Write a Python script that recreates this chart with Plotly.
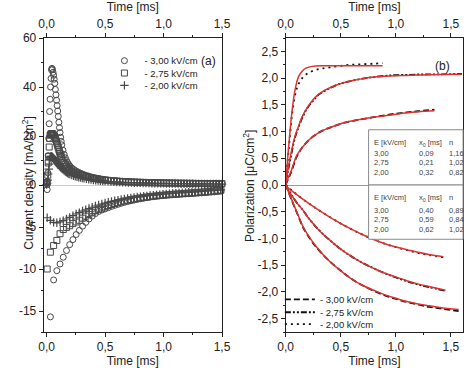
import plotly.graph_objects as go

FONT = "Liberation Sans, Arial, sans-serif"
INK = "#222222"
RED = "#e03030"

# ---------------- panel (a): current density ----------------
t_pos = [0.000, 0.005, 0.010, 0.014, 0.018, 0.022, 0.026, 0.030, 0.034, 0.038, 0.042, 0.046, 0.050,
         0.055, 0.060, 0.065, 0.070, 0.075, 0.080, 0.085, 0.090, 0.095, 0.100, 0.105, 0.110, 0.115,
         0.120, 0.125, 0.130, 0.140, 0.150, 0.160, 0.170, 0.180, 0.190, 0.200, 0.215, 0.230, 0.245,
         0.260, 0.275, 0.290, 0.305, 0.320, 0.340, 0.360, 0.380, 0.400, 0.420, 0.440, 0.460, 0.480,
         0.500, 0.525, 0.550, 0.575, 0.600, 0.625, 0.650, 0.675, 0.700, 0.725, 0.750, 0.775, 0.800,
         0.825, 0.850, 0.875, 0.900, 0.925, 0.950, 0.975, 1.000, 1.025, 1.050, 1.075, 1.100, 1.125,
         1.150, 1.175, 1.200, 1.225, 1.250, 1.275, 1.300, 1.325, 1.350, 1.375, 1.400, 1.425, 1.450,
         1.475, 1.500]
j_pos_300 = [0.5, 1.5, 5, 12, 19, 25, 30, 35, 40, 43.5, 47, 47.6, 47.2,
             46, 44.8, 43.2, 41.5, 39, 36.8, 34.6, 32.4, 30.2, 28, 25.6, 23.4, 21.4,
             19.5, 17.8, 16.4, 14.2, 12.5, 11.1, 10, 9.1, 8.3, 7.7, 7.0, 6.4, 5.9,
             5.5, 5.1, 4.8, 4.5, 4.2, 3.9, 3.6, 3.3, 3.1, 2.9, 2.7, 2.5, 2.35,
             2.2, 2.05, 1.9, 1.8, 1.7, 1.6, 1.5, 1.42, 1.35, 1.3, 1.25, 1.2, 1.15,
             1.1, 1.06, 1.02, 0.98, 0.95, 0.92, 0.9, 0.87, 0.85, 0.83, 0.81, 0.79, 0.77,
             0.75, 0.73, 0.71, 0.7, 0.68, 0.67, 0.65, 0.64, 0.62, 0.61, 0.6, 0.58, 0.57,
             0.56, 0.55]
j_pos_275 = [0.3, 1, 4, 9, 11.6, 15.5, 19, 20.3, 20.6, 20.8, 21, 21, 20.9,
             20.7, 20.4, 20, 19.5, 19, 18.3, 17.6, 16.8, 16, 15.2, 14.4, 13.6, 12.9,
             12.2, 11.6, 11, 10, 9.1, 8.3, 7.6, 7, 6.5, 6.1, 5.6, 5.2, 4.8,
             4.5, 4.2, 4.0, 3.8, 3.6, 3.35, 3.1, 2.9, 2.7, 2.55, 2.4, 2.25, 2.1,
             2.0, 1.88, 1.76, 1.66, 1.57, 1.49, 1.41, 1.34, 1.28, 1.22, 1.17, 1.12, 1.08,
             1.04, 1.0, 0.97, 0.94, 0.91, 0.88, 0.86, 0.83, 0.81, 0.79, 0.77, 0.75, 0.73,
             0.71, 0.7, 0.68, 0.66, 0.65, 0.63, 0.62, 0.61, 0.59, 0.58, 0.57, 0.56, 0.55,
             0.54, 0.53]
j_pos_200 = [0.2, 0.8, 2, 4.5, 6.5, 8.5, 10.3, 11.2, 11.6, 11.7, 11.7, 11.6, 11.4,
             11.2, 10.9, 10.6, 10.3, 10, 9.7, 9.4, 9.1, 8.8, 8.5, 8.2, 7.9, 7.6,
             7.3, 7.0, 6.8, 6.3, 5.9, 5.5, 5.2, 4.9, 4.6, 4.4, 4.1, 3.8, 3.55,
             3.35, 3.15, 3.0, 2.85, 2.7, 2.5, 2.35, 2.2, 2.05, 1.95, 1.85, 1.75, 1.65,
             1.57, 1.48, 1.4, 1.32, 1.25, 1.19, 1.13, 1.08, 1.03, 0.98, 0.94, 0.9, 0.86,
             0.83, 0.8, 0.77, 0.74, 0.72, 0.69, 0.67, 0.65, 0.63, 0.61, 0.59, 0.57, 0.56,
             0.54, 0.53, 0.51, 0.5, 0.49, 0.47, 0.46, 0.45, 0.44, 0.43, 0.42, 0.41, 0.4,
             0.39, 0.38]

t_neg = [0.005, 0.0325, 0.06, 0.0875, 0.115, 0.1425, 0.17, 0.1975, 0.225, 0.2525, 0.28, 0.3075,
         0.335, 0.3625, 0.39, 0.4175, 0.445, 0.4725, 0.5, 0.5275, 0.555, 0.5825, 0.61, 0.6375,
         0.665, 0.6925, 0.72, 0.7475, 0.775, 0.8025, 0.83, 0.8575, 0.885, 0.9125, 0.94, 0.9675,
         0.995, 1.0225, 1.05, 1.0775, 1.105, 1.1325, 1.16, 1.1875, 1.215, 1.2425, 1.27, 1.2975,
         1.325, 1.3525, 1.38, 1.4075, 1.435, 1.4625, 1.49]
j_neg_300 = [-0.55, -15.7, -11.3, -10.2, -9.4, -8.6, -7.8, -7.1, -6.5, -5.9, -5.4, -4.9,
             -4.45, -4.05, -3.7, -3.4, -3.15, -2.98, -2.85, -2.7, -2.55, -2.42, -2.3, -2.18,
             -2.07, -1.97, -1.88, -1.8, -1.72, -1.64, -1.57, -1.5, -1.44, -1.38, -1.33, -1.28,
             -1.24, -1.21, -1.18, -1.15, -1.12, -1.1, -1.08, -1.06, -1.04, -1.02, -1.0, -0.97,
             -0.94, -0.91, -0.88, -0.85, -0.82, -0.78, -0.74]
j_neg_275 = [-10.0, -8.0, -7.2, -6.6, -5.8, -5.3, -5.05, -4.85, -4.6, -4.4, -4.2, -3.95,
             -3.7, -3.5, -3.25, -3.05, -2.9, -2.75, -2.6, -2.45, -2.32, -2.2, -2.1, -2.0,
             -1.9, -1.82, -1.74, -1.67, -1.6, -1.54, -1.48, -1.43, -1.38, -1.34, -1.3, -1.26,
             -1.22, -1.18, -1.15, -1.12, -1.09, -1.06, -1.03, -1.0, -0.97, -0.94, -0.91, -0.88,
             -0.85, -0.82, -0.79, -0.76, -0.72, -0.68, -0.62]
j_neg_200 = [-3.9, -4.2, -4.45, -4.5, -4.4, -4.25, -4.05, -3.85, -3.65, -3.45, -3.3, -3.1,
             -2.95, -2.8, -2.65, -2.5, -2.38, -2.26, -2.15, -2.05, -1.96, -1.88, -1.8, -1.73,
             -1.66, -1.6, -1.54, -1.48, -1.43, -1.38, -1.33, -1.29, -1.25, -1.21, -1.17, -1.14,
             -1.1, -1.07, -1.04, -1.01, -0.98, -0.95, -0.92, -0.9, -0.87, -0.84, -0.82, -0.79,
             -0.77, -0.74, -0.71, -0.68, -0.65, -0.62, -0.58]
labels_a = ["- 3,00 kV/cm", "- 2,75 kV/cm", "- 2,00 kV/cm"]

# ---------------- panel (b): polarization ----------------
t_p1 = [0, 0.02, 0.04, 0.06, 0.08, 0.10, 0.12, 0.15, 0.18, 0.22, 0.27, 0.33, 0.40, 0.50, 0.60, 0.70, 0.80, 0.88]
p_fit_p1 = [0, 0.55, 1.02, 1.42, 1.72, 1.92, 2.04, 2.13, 2.18, 2.21, 2.225, 2.23, 2.23, 2.23, 2.23, 2.23, 2.23, 2.23]
p_meas_p1 = [0, 0.5, 0.95, 1.35, 1.63, 1.8, 1.9, 2.0, 2.06, 2.11, 2.15, 2.18, 2.2, 2.23, 2.25, 2.26, 2.27, 2.28]

t_p2 = [0, 0.02, 0.05, 0.08, 0.12, 0.16, 0.20, 0.25, 0.30, 0.37, 0.45, 0.52, 0.60, 0.70, 0.80, 0.95, 1.10, 1.25, 1.40, 1.60]
p_fit_p2 = [0, 0.28, 0.6, 0.88, 1.12, 1.32, 1.46, 1.6, 1.7, 1.79, 1.86, 1.91, 1.95, 1.99, 2.02, 2.04, 2.05, 2.06, 2.065, 2.07]
p_meas_p2 = [0, 0.25, 0.56, 0.85, 1.1, 1.3, 1.45, 1.58, 1.69, 1.78, 1.86, 1.91, 1.95, 1.99, 2.02, 2.05, 2.06, 2.07, 2.07, 2.08]

t_p3 = [0, 0.02, 0.05, 0.10, 0.15, 0.22, 0.30, 0.37, 0.45, 0.52, 0.66, 0.80, 0.95, 1.10, 1.20, 1.35]
p_fit_p3 = [0, 0.12, 0.26, 0.55, 0.7, 0.86, 0.98, 1.05, 1.11, 1.16, 1.22, 1.27, 1.31, 1.35, 1.37, 1.39]
p_meas_p3 = [0, 0.1, 0.24, 0.53, 0.7, 0.86, 0.98, 1.05, 1.11, 1.16, 1.22, 1.27, 1.32, 1.36, 1.38, 1.41]

t_n1 = [0, 0.02, 0.05, 0.10, 0.20, 0.30, 0.40, 0.50, 0.60, 0.70, 0.80, 0.90, 1.00, 1.10, 1.20, 1.30, 1.43]
p_fit_n1 = [0, -0.05, -0.1, -0.18, -0.33, -0.47, -0.6, -0.72, -0.83, -0.93, -1.02, -1.1, -1.16, -1.21, -1.26, -1.3, -1.34]
p_meas_n1 = [0, -0.04, -0.09, -0.18, -0.33, -0.47, -0.6, -0.72, -0.83, -0.93, -1.02, -1.1, -1.16, -1.22, -1.27, -1.31, -1.35]

t_n2 = [0, 0.02, 0.05, 0.10, 0.16, 0.20, 0.30, 0.40, 0.50, 0.60, 0.70, 0.80, 0.90, 1.00, 1.10, 1.20, 1.30, 1.45]
p_fit_n2 = [0, -0.08, -0.18, -0.33, -0.48, -0.6, -0.84, -1.03, -1.2, -1.34, -1.46, -1.56, -1.65, -1.72, -1.79, -1.85, -1.9, -1.97]
p_meas_n2 = [0, -0.07, -0.17, -0.33, -0.48, -0.6, -0.84, -1.03, -1.2, -1.34, -1.46, -1.56, -1.65, -1.73, -1.8, -1.86, -1.91, -1.98]

t_n3 = [0, 0.02, 0.05, 0.10, 0.16, 0.20, 0.28, 0.40, 0.51, 0.60, 0.70, 0.80, 0.92, 1.00, 1.10, 1.21, 1.30, 1.40, 1.57]
p_fit_n3 = [0, -0.1, -0.25, -0.5, -0.79, -0.93, -1.16, -1.43, -1.62, -1.76, -1.88, -1.97, -2.07, -2.12, -2.18, -2.23, -2.26, -2.29, -2.33]
p_meas_n3 = [0, -0.1, -0.26, -0.51, -0.8, -0.94, -1.17, -1.43, -1.62, -1.76, -1.88, -1.98, -2.08, -2.13, -2.19, -2.24, -2.28, -2.31, -2.36]

labels_b = ["- 3,00 kV/cm", "- 2,75 kV/cm", "- 2,00 kV/cm"]

# fit table
table_E = [3.00, 2.75, 2.00]
fit_x0_pos = [0.09, 0.21, 0.32]
fit_n_pos = [1.16, 1.02, 0.82]
fit_x0_neg = [0.40, 0.59, 0.62]
fit_n_neg = [0.89, 0.84, 1.02]

# ticks
time_ticks = [0, 0.5, 1.0, 1.5]
time_ticktext = ["0,0", "0,5", "1,0", "1,5"]
j_up_ticks = [0, 20, 40, 60]
j_up_ticktext = ["0", "20", "40", "60"]
j_lo_ticks = [-15, -10, -5]
j_lo_ticktext = ["-15", "-10", "-5"]
p_ticks = [2.5, 2.0, 1.5, 1.0, 0.5, 0.0, -0.5, -1.0, -1.5, -2.0, -2.5]
p_ticktext = ["2,5", "2,0", "1,5", "1,0", "0,5", "0,0", "-0,5", "-1,0", "-1,5", "-2,0", "-2,5"]


def comma(v):
    return f"{v:.2f}".replace(".", ",")


W, H = 474, 368
MT, MB = 38, 32
PH = H - MT - MB


def py(ypx):
    return (H - MB - ypx) / PH


def px(xpx):
    return xpx / W


fig = go.Figure()

mk = dict(color="#484848", size=6, line=dict(width=1, color="#484848"))
sym = ["circle-open", "square-open", "cross-thin-open"]
pos_series = [j_pos_300, j_pos_275, j_pos_200]
neg_series = [j_neg_300, j_neg_275, j_neg_200]
for i in range(3):
    m = dict(mk, symbol=sym[i])
    if i == 2:
        m["line"] = dict(width=1.2, color="#222222")
    fig.add_trace(go.Scatter(x=t_pos, y=pos_series[i], xaxis="x", yaxis="y", mode="markers",
                             marker=m, name=labels_a[i], legend="legend" if i == 0 else f"legend{i + 1}",
                             cliponaxis=False))
    fig.add_trace(go.Scatter(x=t_neg, y=neg_series[i], xaxis="x", yaxis="y2", mode="markers",
                             marker=m, showlegend=False, cliponaxis=False))

# carriers for the top time axes (no visible marks)
fig.add_trace(go.Scatter(x=time_ticks, y=[None] * len(time_ticks), xaxis="x3", yaxis="y",
                         mode="markers", showlegend=False, hoverinfo="skip"))
fig.add_trace(go.Scatter(x=time_ticks, y=[None] * len(time_ticks), xaxis="x5", yaxis="y3",
                         mode="markers", showlegend=False, hoverinfo="skip"))

# panel (b): measured (black) then fits (red)
meas = [(t_p1, p_meas_p1, "2px,4px", 2), (t_p2, p_meas_p2, "6px,2px,2px,2px,2px,2px", 1),
        (t_p3, p_meas_p3, "6px,3px", 0),
        (t_n1, p_meas_n1, "2px,4px", 2), (t_n2, p_meas_n2, "6px,2px,2px,2px,2px,2px", 1),
        (t_n3, p_meas_n3, "6px,3px", 0)]
shown = set()
for tt, pp, dash, li in meas:
    show = li not in shown
    shown.add(li)
    fig.add_trace(go.Scatter(x=tt, y=pp, xaxis="x4", yaxis="y3", mode="lines",
                             line=dict(color="#111111", width=1.8, dash=dash, shape="spline"),
                             name=labels_b[li], showlegend=show, legend=f"legend{4 + li}"))
for tt, pp in [(t_p1, p_fit_p1), (t_p2, p_fit_p2), (t_p3, p_fit_p3),
               (t_n1, p_fit_n1), (t_n2, p_fit_n2), (t_n3, p_fit_n3)]:
    fig.add_trace(go.Scatter(x=tt, y=pp, xaxis="x4", yaxis="y3", mode="lines",
                             line=dict(color=RED, width=1.5, shape="spline"), showlegend=False))

tickfont = dict(family=FONT, size=12, color=INK)
titlefont = dict(family=FONT, size=12, color=INK)
base = dict(showline=True, linecolor=INK, linewidth=1, ticks="outside", ticklen=4, tickwidth=1,
            tickcolor=INK, showgrid=False, zeroline=False, tickfont=tickfont)
LX = [px(37), px(222)]
RX = [px(288), px(472)]
xminor = dict(tickmode="array", tickvals=[0.25, 0.75, 1.25], ticks="outside", ticklen=2, tickcolor=INK)

layout = dict(
    width=W, height=H, autosize=False,
    margin=dict(l=0, r=0, t=MT, b=MB),
    paper_bgcolor="white", plot_bgcolor="white",
    font=dict(family=FONT, size=12, color=INK),
    xaxis=dict(base, domain=LX, range=[-0.025, 1.5], anchor="y2", tickmode="array",
               tickvals=time_ticks, ticktext=time_ticktext, minor=xminor,
               title=dict(text="Time [ms]", font=titlefont, standoff=5)),
    xaxis3=dict(base, domain=LX, range=[-0.025, 1.5], anchor="y", overlaying="x", side="top",
                tickmode="array", tickvals=time_ticks, ticktext=time_ticktext, minor=xminor,
                title=dict(text="Time [ms]", font=titlefont, standoff=4)),
    yaxis=dict(base, domain=[0.5, 1.0], range=[0, 60], anchor="x", mirror=True, tickmode="array",
               tickvals=j_up_ticks, ticktext=j_up_ticktext,
               minor=dict(tickmode="array", tickvals=[10, 30, 50], ticks="outside", ticklen=2, tickcolor=INK)),
    yaxis2=dict(base, domain=[0.0, 0.5], range=[-17.5, 0], anchor="x", mirror=True, tickmode="array",
                tickvals=j_lo_ticks, ticktext=j_lo_ticktext,
                minor=dict(tickmode="array", tickvals=[-17.5, -12.5, -7.5, -2.5], ticks="outside",
                           ticklen=2, tickcolor=INK)),
    xaxis4=dict(base, domain=RX, range=[0, 1.61], anchor="y3", tickmode="array",
                tickvals=time_ticks, ticktext=time_ticktext, minor=xminor,
                title=dict(text="Time [ms]", font=titlefont, standoff=5)),
    xaxis5=dict(base, domain=RX, range=[0, 1.61], anchor="y3", overlaying="x4", side="top",
                tickmode="array", tickvals=time_ticks, ticktext=time_ticktext, minor=xminor,
                title=dict(text="Time [ms]", font=titlefont, standoff=4)),
    yaxis3=dict(base, domain=[0, 1], range=[-2.75, 2.75], anchor="x4", mirror=True, tickmode="array",
                tickvals=p_ticks, ticktext=p_ticktext, zeroline=True, zerolinecolor="#9a9a9a",
                zerolinewidth=1,
                minor=dict(tickmode="array", tickvals=[2.75, 2.25, 1.75, 1.25, 0.75, 0.25, -0.25, -0.75,
                                                        -1.25, -1.75, -2.25, -2.75],
                           ticks="outside", ticklen=2, tickcolor=INK)),
    showlegend=True,
)

leg_base = dict(bgcolor="rgba(0,0,0,0)", borderwidth=0, font=dict(family=FONT, size=9.5, color=INK),
                xanchor="left", yanchor="middle", itemwidth=30, tracegroupgap=0)
for i, yc in enumerate([61, 73.5, 86]):
    key = "legend" if i == 0 else f"legend{i + 1}"
    layout[key] = dict(leg_base, x=px(100), y=py(yc))
for i, yc in enumerate([303, 316, 328]):
    layout[f"legend{4 + i}"] = dict(leg_base, x=px(282), y=py(yc))

fig.update_layout(**layout)

# zero line panel (a)
fig.add_shape(type="line", xref="x domain", x0=0, x1=1, yref="y2", y0=0, y1=0,
              line=dict(color="#9a9a9a", width=1), layer="below")

# fit table boxes
for y0, y1 in [(131, 187), (187, 242)]:
    fig.add_shape(type="rect", xref="paper", yref="paper", x0=px(374), x1=px(472), y0=py(y1), y1=py(y0),
                  line=dict(color="#8a8a8a", width=1), fillcolor="white", layer="above")

tfont = dict(family=FONT, size=7.5, color="#444444")
cols = [px(378), px(424), px(455)]


def add_table(hy, rows_y, x0s, ns):
    for cx, txt in zip(cols, ["E [kV/cm]", "x<sub>0</sub> [ms]", "n"]):
        fig.add_annotation(x=cx, y=py(hy), xref="paper", yref="paper", text=txt, showarrow=False,
                           xanchor="left", yanchor="middle", font=tfont)
    for k in range(3):
        for cx, txt in zip(cols, [comma(table_E[k]), comma(x0s[k]), comma(ns[k])]):
            fig.add_annotation(x=cx, y=py(rows_y[k]), xref="paper", yref="paper", text=txt,
                               showarrow=False, xanchor="left", yanchor="middle", font=tfont)


add_table(144, [155, 164.5, 174], fit_x0_pos, fit_n_pos)
add_table(200, [213, 222.3, 231.7], fit_x0_neg, fit_n_neg)

# panel labels and y titles
fig.add_annotation(x=px(208), y=py(52), xref="paper", yref="paper", text="(a)", showarrow=False,
                   font=dict(family=FONT, size=12, color=INK))
fig.add_annotation(x=px(460), y=py(57), xref="paper", yref="paper", text="(b)", showarrow=False,
                   font=dict(family=FONT, size=12, color=INK))
fig.add_annotation(x=px(10), y=py(185), xref="paper", yref="paper", text="Current density [mA/cm<sup>2</sup>]",
                   showarrow=False, textangle=-90, font=titlefont)
fig.add_annotation(x=px(250), y=py(188), xref="paper", yref="paper", text="Polarization [\u03bcC/cm<sup>2</sup>]",
                   showarrow=False, textangle=-90, font=titlefont)

fig.write_html("out.html", config={"displayModeBar": False},
               post_script="document.body.style.margin='0';document.body.style.padding='0';")
